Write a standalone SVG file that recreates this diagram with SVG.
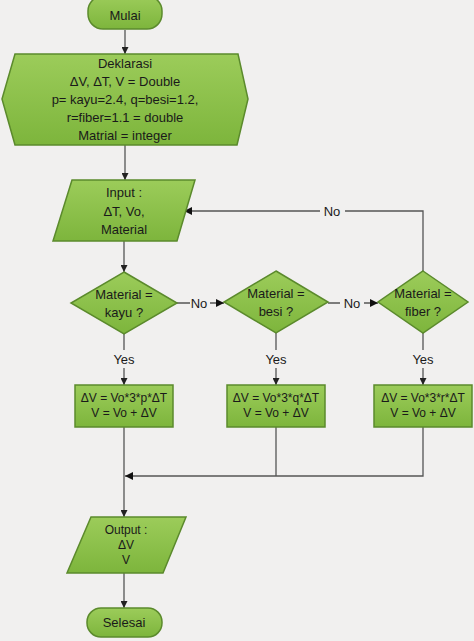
<svg xmlns="http://www.w3.org/2000/svg" width="474" height="641" viewBox="0 0 474 641">
<defs>
<linearGradient id="g" x1="0" y1="0" x2="0" y2="1">
<stop offset="0" stop-color="#9ccc5a"/>
<stop offset="1" stop-color="#7db53c"/>
</linearGradient>
<marker id="ah" viewBox="0 0 10 10" refX="10" refY="5" markerWidth="7" markerHeight="7" markerUnits="userSpaceOnUse" orient="auto">
<path d="M0,0 L10,5 L0,10 z" fill="#222"/>
</marker>
<marker id="ahb" viewBox="0 0 10 10" refX="10" refY="5" markerWidth="10" markerHeight="8" markerUnits="userSpaceOnUse" orient="auto">
<path d="M0,0 L10,5 L0,10 z" fill="#111"/>
</marker>
</defs>
<style>
.n{fill:url(#g);stroke:#5b8a2c;stroke-width:1.5}
.t{font-family:"Liberation Sans",Arial,sans-serif;font-size:13px;fill:#1a1a1a;text-anchor:middle}
.s{font-size:12px}
.c{fill:none;stroke:#555;stroke-width:1.3}
.l{font-family:"Liberation Sans",Arial,sans-serif;font-size:13px;fill:#1a1a1a;text-anchor:middle}
</style>
<rect width="474" height="641" fill="#f1f0ef"/>
<g id="connectors">
<line class="c" x1="125" y1="30" x2="125" y2="54" marker-end="url(#ah)"/>
<line class="c" x1="125" y1="145" x2="125" y2="180" marker-end="url(#ah)"/>
<line class="c" x1="124" y1="241" x2="124" y2="272" marker-end="url(#ah)"/>
<path class="c" d="M177,303 H190 M210,303 H224" marker-end="url(#ahb)"/>
<path class="c" d="M328,303 H340 M364,303 H378" marker-end="url(#ahb)"/>
<path class="c" d="M423,271 V211 H345 M320,211 H184" marker-end="url(#ahb)"/>
<path class="c" d="M124,334 V350 M124,368 V385" marker-end="url(#ah)"/>
<path class="c" d="M276,333 V350 M276,368 V385" marker-end="url(#ah)"/>
<path class="c" d="M423,333 V350 M423,368 V385" marker-end="url(#ah)"/>
<path class="c" d="M124,427 V517" marker-end="url(#ah)"/>
<line class="c" x1="276" y1="427" x2="276" y2="476"/>
<path class="c" d="M423,427 V476 H125" marker-end="url(#ahb)"/>
<line class="c" x1="124" y1="573" x2="124" y2="608" marker-end="url(#ah)"/>
<text class="l" x="199" y="308">No</text>
<text class="l" x="352" y="308">No</text>
<text class="l" x="332" y="216">No</text>
<text class="l" x="124" y="364">Yes</text>
<text class="l" x="276" y="364">Yes</text>
<text class="l" x="423" y="364">Yes</text>
</g>
<g id="mulai">
<rect class="n" x="88" y="-4" width="74" height="33" rx="15"/>
<text class="t" x="125" y="20">Mulai</text>
</g>
<g id="deklarasi">
<polygon class="n" points="2,99 15,54 238,54 248,99 237,145 15,145"/>
<text class="t" x="125" y="68">Deklarasi</text>
<text class="t" x="125" y="86">ΔV, ΔT, V = Double</text>
<text class="t" x="125" y="104">p= kayu=2.4, q=besi=1.2,</text>
<text class="t" x="125" y="122">r=fiber=1.1 = double</text>
<text class="t" x="125" y="140">Matrial = integer</text>
</g>
<g id="input">
<polygon class="n" points="72,180 195,180 177,241 53,241"/>
<text class="t" x="124" y="197">Input :</text>
<text class="t" x="124" y="216">ΔT, Vo,</text>
<text class="t" x="124" y="234">Material</text>
</g>
<g id="d1">
<polygon class="n" points="124,272 177,303 124,334 71,303"/>
<text class="t" x="124" y="299">Material =</text>
<text class="t" x="124" y="317">kayu ?</text>
</g>
<g id="d2">
<polygon class="n" points="276,271 328,302 276,333 224,302"/>
<text class="t" x="276" y="298">Material =</text>
<text class="t" x="276" y="316">besi ?</text>
</g>
<g id="d3">
<polygon class="n" points="423,271 468,302 423,333 378,302"/>
<text class="t" x="423" y="298">Material =</text>
<text class="t" x="423" y="316">fiber ?</text>
</g>
<g id="p1">
<rect class="n" x="75" y="385" width="98" height="42"/>
<text class="t s" x="124" y="402">ΔV = Vo*3*p*ΔT</text>
<text class="t s" x="124" y="417">V = Vo + ΔV</text>
</g>
<g id="p2">
<rect class="n" x="227" y="385" width="98" height="42"/>
<text class="t s" x="276" y="402">ΔV = Vo*3*q*ΔT</text>
<text class="t s" x="276" y="417">V = Vo + ΔV</text>
</g>
<g id="p3">
<rect class="n" x="374" y="385" width="98" height="42"/>
<text class="t s" x="423" y="402">ΔV = Vo*3*r*ΔT</text>
<text class="t s" x="423" y="417">V = Vo + ΔV</text>
</g>
<g id="output">
<polygon class="n" points="91,517 186,517 163,573 67,573"/>
<text class="t s" x="126" y="534">Output :</text>
<text class="t s" x="126" y="549">ΔV</text>
<text class="t s" x="126" y="564">V</text>
</g>
<g id="selesai">
<rect class="n" x="87" y="608" width="75" height="29" rx="14"/>
<text class="t" x="124" y="627">Selesai</text>
</g>
</svg>
